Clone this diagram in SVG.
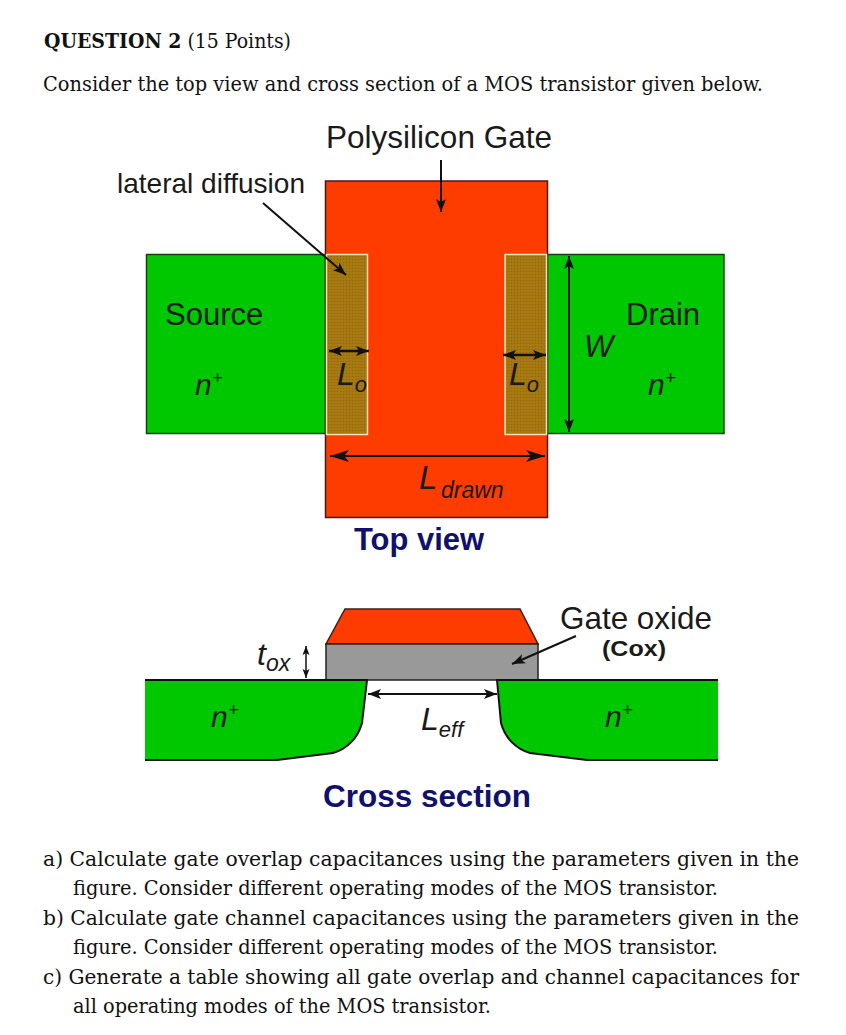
<svg xmlns="http://www.w3.org/2000/svg" width="846" height="1035" viewBox="0 0 846 1035">
<style>
.b{font-family:"DejaVu Serif","Liberation Serif",serif;font-stretch:condensed;font-size:21px;fill:#111}
.s{font-family:"Liberation Sans",Arial,sans-serif;fill:#1a1a1a}
.i{font-style:italic}
.t{font-family:"Liberation Sans",Arial,sans-serif;font-weight:bold;fill:#10106e}
.line{fill:none;stroke:#111;stroke-width:2}
</style>
<defs>
<marker id="a" markerUnits="userSpaceOnUse" markerWidth="20" markerHeight="12" refX="19" refY="6" orient="auto-start-reverse"><path d="M0 0L19 6L0 12L5 6Z" fill="#111"/></marker>
<marker id="b" markerUnits="userSpaceOnUse" markerWidth="14" markerHeight="10" refX="13" refY="5" orient="auto-start-reverse"><path d="M0 0L13 5L0 10L3 5Z" fill="#111"/></marker>
<marker id="c" markerUnits="userSpaceOnUse" markerWidth="10" markerHeight="8" refX="9" refY="4" orient="auto-start-reverse"><path d="M0 .5L9 4L0 7.500L2 4Z" fill="#111"/></marker>
<pattern id="dots" width="3" height="3" patternUnits="userSpaceOnUse"><rect width="3" height="3" fill="#a87a10"/><circle cx="1.500" cy="1.500" r=".8" fill="#8f6a12"/></pattern>
</defs>
<rect width="846" height="1035" fill="#fff"/>
<g id="question-text">
<text class="b" x="44" y="48" textLength="247" lengthAdjust="spacingAndGlyphs"><tspan font-weight="bold">QUESTION 2</tspan> (15 Points)</text>
<text class="b" x="43" y="91" textLength="720" lengthAdjust="spacingAndGlyphs">Consider the top view and cross section of a MOS transistor given below.</text>
<text class="b" x="43" y="866" textLength="756" lengthAdjust="spacingAndGlyphs">a) Calculate gate overlap capacitances using the parameters given in the</text>
<text class="b" x="73" y="895" textLength="645" lengthAdjust="spacingAndGlyphs">figure. Consider different operating modes of the MOS transistor.</text>
<text class="b" x="43" y="925" textLength="756" lengthAdjust="spacingAndGlyphs">b) Calculate gate channel capacitances using the parameters given in the</text>
<text class="b" x="73" y="954" textLength="645" lengthAdjust="spacingAndGlyphs">figure. Consider different operating modes of the MOS transistor.</text>
<text class="b" x="43" y="984" textLength="756" lengthAdjust="spacingAndGlyphs">c) Generate a table showing all gate overlap and channel capacitances for</text>
<text class="b" x="73" y="1013" textLength="418" lengthAdjust="spacingAndGlyphs">all operating modes of the MOS transistor.</text>
</g>
<g id="source"><rect x="146.500" y="254.500" width="179" height="179" fill="#00c800" stroke="#153f15" stroke-width="1.500"/><text class="s" x="165" y="325" font-size="31" fill="#0c3d0c">Source</text><text class="s i" x="195" y="395" font-size="30">n<tspan font-size="19" dy="-11">+</tspan></text></g>
<g id="drain"><rect x="547" y="254.500" width="177" height="179" fill="#00c800" stroke="#153f15" stroke-width="1.500"/><text class="s" x="626" y="325" font-size="31" fill="#0c3d0c">Drain</text><text class="s i" x="648" y="395" font-size="30">n<tspan font-size="19" dy="-11">+</tspan></text><text class="s i" x="584" y="357" font-size="31">W</text></g>
<g id="gate"><rect x="325.500" y="181" width="222" height="336.500" fill="#ff3c00" stroke="#4a1a10" stroke-width="1.500"/><text class="s" x="326" y="148" font-size="32" textLength="226" lengthAdjust="spacingAndGlyphs">Polysilicon Gate</text><text class="s i" x="419" y="489" font-size="33">L</text><text class="s i" x="441" y="498" font-size="23" fill="#4d1208">drawn</text></g>
<g id="overlap-left"><rect x="326.500" y="254.500" width="41" height="180" fill="url(#dots)" stroke="#f4e3b8" stroke-width="1.500"/><text class="s i" x="337" y="385" font-size="32">L<tspan font-size="22" dy="7">o</tspan></text></g>
<g id="overlap-right"><rect x="505" y="254.500" width="41.500" height="180" fill="url(#dots)" stroke="#f4e3b8" stroke-width="1.500"/><text class="s i" x="509" y="385" font-size="32">L<tspan font-size="22" dy="7">o</tspan></text></g>
<g id="labels">
<text class="s" x="117" y="193" font-size="28.500" textLength="188" lengthAdjust="spacingAndGlyphs">lateral diffusion</text>
<text class="t" x="354" y="550" font-size="32" textLength="130" lengthAdjust="spacingAndGlyphs">Top view</text>
<text class="t" x="323" y="807" font-size="32" textLength="208" lengthAdjust="spacingAndGlyphs">Cross section</text>
<text class="s" x="560" y="629" font-size="32" textLength="152" lengthAdjust="spacingAndGlyphs">Gate oxide</text>
<text class="s" x="602" y="656" font-size="22" font-weight="bold" textLength="64" lengthAdjust="spacingAndGlyphs">(Cox)</text>
<text class="s i" x="257" y="665" font-size="32">t<tspan font-size="23" dy="6">ox</tspan></text>
<text class="s i" x="421" y="730" font-size="32">L<tspan font-size="22" dy="7">eff</tspan></text>
</g>
<g id="cross-section">
<path id="poly" d="M345 609H520L538 644H326Z" fill="#ff3c00" stroke="#3a2018" stroke-width="1.500"/>
<rect id="oxide" x="326" y="644" width="212" height="36" fill="#999" stroke="#222" stroke-width="1.500"/>
<path id="n-left" d="M145 680H367L362 723C358 738 347 749 333 753L277 760H145Z" fill="#00c800"/>
<path d="M145 680H367L362 723C358 738 347 749 333 753L277 760H145" class="line"/>
<path id="n-right" d="M497 680L501 723C505 738 516 749 530 753L587 760H718V680Z" fill="#00c800"/>
<path d="M718 680H497L501 723C505 738 516 749 530 753L587 760H718" class="line"/>
<text class="s i" x="211" y="727" font-size="30">n<tspan font-size="19" dy="-11">+</tspan></text>
<text class="s i" x="605" y="727" font-size="30">n<tspan font-size="19" dy="-11">+</tspan></text>
</g>
<g id="connectors" class="line">
<path d="M441 160V212" marker-end="url(#b)"/>
<path d="M263 203L346 275" marker-end="url(#b)"/>
<path d="M329 351H369" stroke-width="2.500" marker-start="url(#b)" marker-end="url(#b)"/>
<path d="M503 355H546" stroke-width="2.500" marker-start="url(#b)" marker-end="url(#b)"/>
<path d="M569 256V432" marker-start="url(#b)" marker-end="url(#b)"/>
<path d="M330 456H545" marker-start="url(#a)" marker-end="url(#a)"/>
<path d="M306 646V678" stroke-width="1.500" marker-start="url(#c)" marker-end="url(#c)"/>
<path d="M368 694H497" marker-start="url(#b)" marker-end="url(#b)"/>
<path d="M576 636L512 664" marker-end="url(#b)"/>
</g>
</svg>
